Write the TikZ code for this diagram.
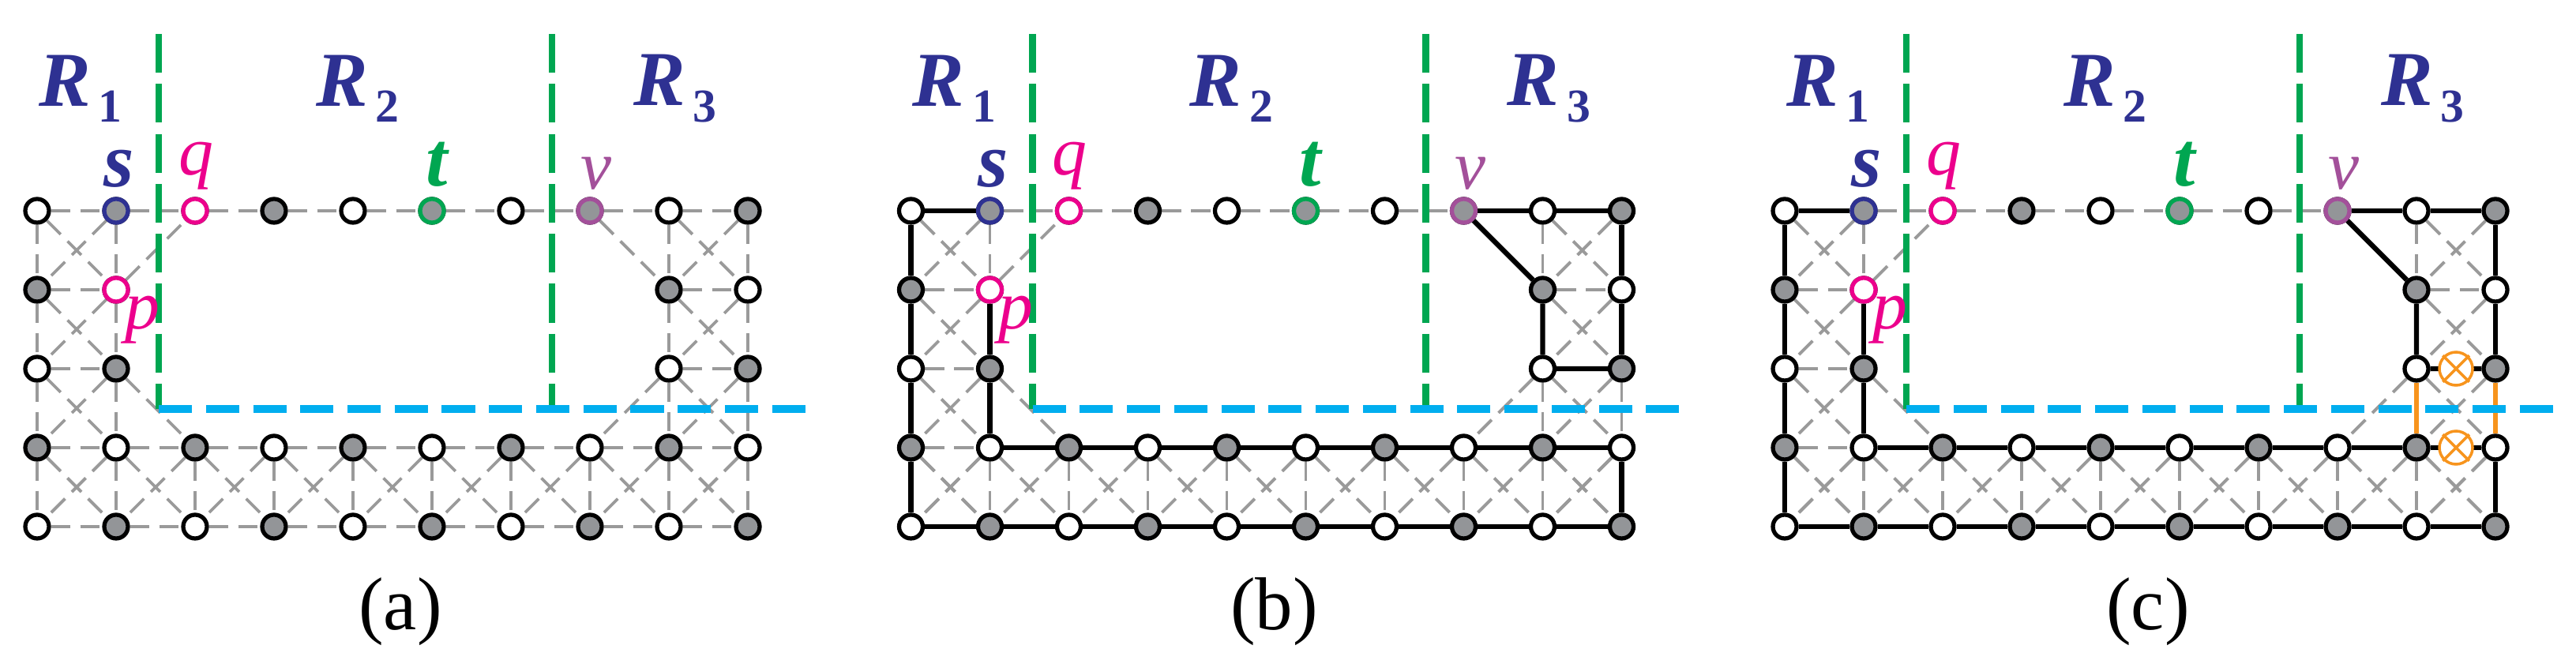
\documentclass[tikz,border=0pt]{standalone}
\usepackage{fontspec}
\setmainfont{Liberation Serif}
\usetikzlibrary{backgrounds,shapes.misc,calc}
\definecolor{rblue}{HTML}{2E3192}
\definecolor{mag}{HTML}{EC008C}
\definecolor{grn}{HTML}{00A651}
\definecolor{pur}{HTML}{A3509A}
\definecolor{cyanb}{HTML}{00AEEF}
\definecolor{org}{HTML}{F7941D}
\definecolor{nodegray}{HTML}{939598}
\definecolor{edgegray}{HTML}{9A9A9A}
\tikzset{
 vtx/.style={circle,draw=black,line width=1.5pt,minimum size=0.3cm,inner sep=0pt},
 gv/.style={vtx,fill=nodegray},
 wv/.style={vtx,fill=white},
 ge/.style={draw=edgegray,line width=1.1pt,dash pattern=on 7pt off 3.5pt},
 be/.style={draw=black,line width=1.8pt},
 oe/.style={draw=org,line width=1.8pt},
 gline/.style={draw=grn,line width=2.3pt,dash pattern=on 14pt off 4pt},
 bline/.style={draw=cyanb,line width=2.8pt,dash pattern=on 12pt off 5pt},
 rlab/.style={inner sep=0pt,text=rblue,font=\fontsize{28}{29}\selectfont\bfseries\itshape},
 lab/.style={inner sep=0pt,font=\fontsize{25}{26}\selectfont\itshape},
 captxt/.style={font=\fontsize{27}{28}\selectfont},
 otimes/.style={circle,draw=org,line width=1pt,fill=white,minimum size=0.42cm,inner sep=0pt},
 oxx/.style={cross out,draw=org,line width=1pt,minimum size=0.3cm,inner sep=0pt},
}
\newcommand\Rl[1]{\textit{R}\raisebox{-0.45ex}{\fontsize{17}{17}\selectfont\upshape\bfseries\,#1}}
\newcommand\mkpanel[3]{%
\begin{scope}[xshift=#2cm]
 \foreach \j in {0,3,4}{\foreach \i in {0,...,9}{
   \pgfmathparse{int(mod(\i+\j,2))}
   \ifnum\pgfmathresult=1 \node[gv] (#1-\i-\j) at (0.47+\i,-2.67-\j) {};
   \else \node[wv] (#1-\i-\j) at (0.47+\i,-2.67-\j) {}; \fi}}
 \foreach \j in {1,2}{\foreach \i in {0,1,8,9}{
   \pgfmathparse{int(mod(\i+\j,2))}
   \ifnum\pgfmathresult=1 \node[gv] (#1-\i-\j) at (0.47+\i,-2.67-\j) {};
   \else \node[wv] (#1-\i-\j) at (0.47+\i,-2.67-\j) {}; \fi}}
 \node[gv,draw=rblue] at (#1-1-0) {};
 \node[wv,draw=mag] at (#1-2-0) {};
 \node[gv,draw=grn] at (#1-5-0) {};
 \node[gv,draw=pur] at (#1-7-0) {};
 \node[wv,draw=mag] at (#1-1-1) {};
 \begin{pgfonlayer}{background}
  \foreach \i [evaluate=\i as \k using int(\i+1)] in {0,...,8}{
    \draw[ge] (#1-\i-0)--(#1-\k-0);
    \draw[ge] (#1-\i-3)--(#1-\k-3);
    \draw[ge] (#1-\i-4)--(#1-\k-4);
    \draw[ge] (#1-\i-3)--(#1-\k-4);
    \draw[ge] (#1-\k-3)--(#1-\i-4);}
  \foreach \i in {0,...,9}{\draw[ge] (#1-\i-3)--(#1-\i-4);}
  \foreach \c [evaluate=\c as \d using int(\c+1)] in {0,8}{
   \foreach \j [evaluate=\j as \m using int(\j+1)] in {0,...,3}{
    \draw[ge] (#1-\c-\j)--(#1-\c-\m);
    \draw[ge] (#1-\d-\j)--(#1-\d-\m);
    \draw[ge] (#1-\c-\j)--(#1-\d-\m);
    \draw[ge] (#1-\d-\j)--(#1-\c-\m);
    \draw[ge] (#1-\c-\m)--(#1-\d-\m);}}
  \draw[ge] (#1-1-1)--(#1-2-0);
  \draw[ge] (#1-1-2)--(#1-2-3);
  \draw[ge] (#1-7-0)--(#1-8-1);
  \draw[ge] (#1-8-2)--(#1-7-3);
  #3
 \end{pgfonlayer}
 \coordinate (#1-g1t) at (2.01,-0.43); \coordinate (#1-g1b) at (2.01,-5.18);
 \coordinate (#1-g2t) at (6.99,-0.43); \coordinate (#1-g2b) at (6.99,-5.18);
 \coordinate (#1-be) at (10.32,-5.18);
 \draw[gline] (#1-g1t)--(#1-g1b);
 \draw[gline] (#1-g2t)--(#1-g2b);
 \draw[bline] (#1-g1b)--(#1-be);
 \node[rlab] (#1-R1) at (1.02,-1.12) {\Rl{1}};
 \node[rlab] (#1-R2) at (4.53,-1.12) {\Rl{2}};
 \node[rlab] (#1-R3) at (8.55,-1.12) {\Rl{3}};
 \node[lab,text=rblue,font=\fontsize{28}{28}\selectfont\bfseries\itshape] (#1-s) at (1.51,-2.14) {s};
 \node[lab,text=mag] (#1-q) at (2.48,-2.1) {q};
 \node[lab,text=grn,font=\fontsize{28}{28}\selectfont\bfseries\itshape] (#1-t) at (5.53,-2.08) {t};
 \node[lab,text=pur] (#1-v) at (7.55,-2.2) {v};
 \node[lab,text=mag] (#1-p) at (1.8,-4.05) {p};
 \node[captxt] (#1-cap) at (5.07,-7.75) {(#1)};
\end{scope}}
\newcommand\solidset[1]{%
  \draw[be] (#1-0-0)--(#1-1-0);
  \draw[be] (#1-0-0)--(#1-0-1)--(#1-0-2)--(#1-0-3)--(#1-0-4);
  \draw[be] (#1-1-1)--(#1-1-2)--(#1-1-3);
  \draw[be] (#1-0-4)--(#1-1-4)--(#1-2-4)--(#1-3-4)--(#1-4-4)--(#1-5-4)--(#1-6-4)--(#1-7-4)--(#1-8-4)--(#1-9-4);
  \draw[be] (#1-1-3)--(#1-2-3)--(#1-3-3)--(#1-4-3)--(#1-5-3)--(#1-6-3)--(#1-7-3)--(#1-8-3)--(#1-9-3);
  \draw[be] (#1-7-0)--(#1-8-0)--(#1-9-0)--(#1-9-1)--(#1-9-2);
  \draw[be] (#1-7-0)--(#1-8-1)--(#1-8-2)--(#1-9-2);
  \draw[be] (#1-9-3)--(#1-9-4);}
\begin{document}
\begin{tikzpicture}
\useasboundingbox (0,0) rectangle (32.62,-8.41);
\mkpanel{a}{0}{}
\mkpanel{b}{11.065}{\solidset{b}}
\mkpanel{c}{22.13}{\solidset{c}
  \draw[oe] (c-8-2)--(c-8-3);
  \draw[oe] (c-9-2)--(c-9-3);}
\node[otimes] (x1) at ($(c-8-2)!0.5!(c-9-2)$) {};
\node[oxx] at (x1) {};
\node[otimes] (x2) at ($(c-8-3)!0.5!(c-9-3)$) {};
\node[oxx] at (x2) {};
\end{tikzpicture}
\end{document}
